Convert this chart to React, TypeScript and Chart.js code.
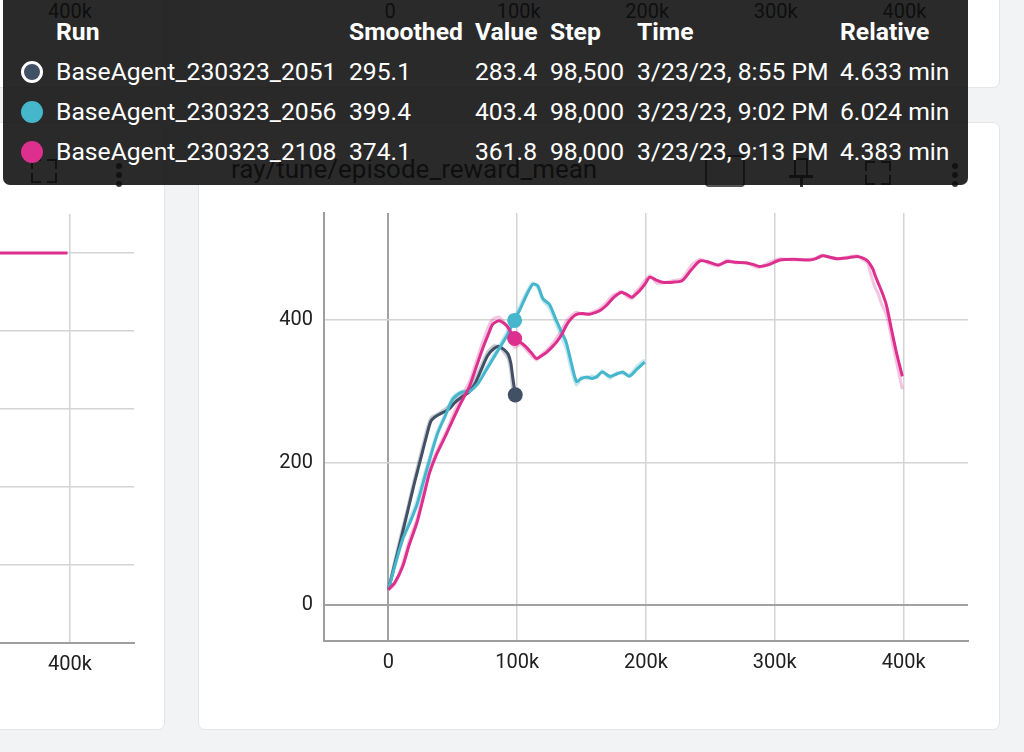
import React, { useEffect, useRef } from "react";
import { Chart, registerables } from "chart.js";

Chart.register(...registerables);

// ---------- data (steps in thousands) ----------
const X_TICKS = [0, 100, 200, 300, 400];
const Y_TICKS = [0, 200, 400];
const LEFT_Y_TICKS = [0, 1, 2, 3, 4, 5];

const RUN_NAMES = ["BaseAgent_230323_2051", "BaseAgent_230323_2056", "BaseAgent_230323_2108"];
const RUN_COLORS = ["#425066", "#45b6cc", "#dc2f8e"];
const RUN_RAW_COLORS = ["rgba(66,80,102,0.28)", "rgba(69,182,204,0.32)", "rgba(220,47,142,0.28)"];
const SMOOTHED_VALS = [295.1, 399.4, 374.1];
const RAW_VALS = [283.4, 403.4, 361.8];
const HOVER_STEPS = [98.5, 98, 98];
const STEP_LABELS = ["98,500", "98,000", "98,000"];
const TIME_LABELS = ["3/23/23, 8:55 PM", "3/23/23, 9:02 PM", "3/23/23, 9:13 PM"];
const RELATIVE_LABELS = ["4.633 min", "6.024 min", "4.383 min"];

const darkSteps = [0, 5, 10, 15, 20, 25, 30, 33, 37, 42, 47, 52, 57, 62, 67, 72, 77, 82, 86, 90, 93, 95, 96.5, 98.5];
const darkSmoothed = [22, 58, 95, 132, 170, 205, 240, 258, 265, 270, 275, 285, 292, 298, 310, 330, 350, 360, 363, 358, 352, 340, 320, 295.1];
const darkRaw = [22, 63, 101, 137, 176, 212, 247, 263, 267, 273, 279, 289, 294, 302, 316, 336, 355, 364, 362, 354, 346, 328, 302, 283.4];

const cyanSteps = [0, 5, 11, 16, 22, 27, 32, 38, 44, 50, 57, 63, 70, 75, 81, 86, 92, 98, 103, 107, 112, 116, 120, 125, 130, 134, 138, 142, 146, 150, 154, 158, 162, 166, 172, 177, 182, 187, 193, 199];
const cyanSmoothed = [22, 55, 92, 113, 140, 172, 204, 240, 265, 289, 299, 300, 312, 327, 345, 360, 378, 399.4, 418, 434, 450, 448, 430, 422, 401, 385, 369, 340, 314, 318, 320, 318, 321, 327, 321, 324, 327, 321, 331, 341];
const cyanRaw = [22, 60, 97, 118, 146, 178, 208, 244, 268, 292, 300, 302, 316, 331, 349, 364, 383, 403.4, 423, 438, 452, 445, 427, 417, 396, 378, 360, 330, 309, 320, 318, 322, 319, 329, 318, 326, 325, 323, 335, 344];

const pinkSteps = [0, 5, 11, 16, 22, 27, 32, 37, 45, 50, 56, 63, 68, 73, 78, 81, 86, 92, 98, 103, 107, 111, 115, 119, 123, 127, 131, 135, 138, 142, 146, 151, 156, 160, 164, 169, 174, 178, 181, 185, 189, 192, 195, 199, 203, 208, 213, 221, 228, 235, 242, 249, 256, 263, 270, 278, 283, 288, 296, 304, 315, 327, 332, 337, 343, 348, 356, 364, 368, 372, 374, 376, 378, 380, 383, 386, 388, 390, 394, 399];
const pinkSmoothed = [22, 32, 54, 84, 115, 150, 186, 210, 240, 260, 283, 307, 333, 359, 382, 394, 399, 392, 374.1, 368, 362, 354, 346, 350, 355, 362, 370, 381, 392, 402, 408, 409, 408, 410, 413, 420, 430, 436, 439, 436, 432, 436, 441, 450, 460, 456, 453, 453, 455, 470, 483, 481, 477, 482, 481, 480, 478, 475, 478, 484, 485, 484, 486, 490, 488, 486, 487, 489, 487, 483, 478, 472, 462, 453, 440, 425, 410, 392, 358, 321];
const pinkRaw = [22, 30, 58, 90, 120, 156, 190, 214, 244, 266, 290, 314, 341, 368, 392, 401, 404, 390, 361.8, 366, 358, 350, 344, 352, 358, 366, 376, 388, 398, 406, 411, 408, 409, 412, 416, 424, 434, 438, 440, 433, 430, 440, 445, 455, 462, 452, 452, 455, 458, 476, 485, 479, 476, 484, 480, 481, 476, 474, 481, 486, 484, 485, 487, 491, 487, 486, 488, 490, 485, 480, 468, 455, 445, 438, 422, 410, 398, 380, 345, 303];

const leftSteps = [0, 100, 200, 300, 398];
const leftValues = [5, 5, 5, 5, 5];

const TOP_LABEL_TICKS = [0, 100, 200, 300, 400];

// ---------- helpers ----------
const pts = (xs: number[], ys: number[]) => xs.map((x, i) => ({ x, y: ys[i] }));
const tickLabel = (v: number) => (v === 0 ? "0" : `${v}k`);

const FONT = "Roboto";

function gridOpts() {
  return {
    drawTicks: false,
    color: (ctx: any) => (ctx.tick && ctx.tick.value === 0 ? "#a2a2a2" : "#d4d4d4"),
    lineWidth: (ctx: any) => (ctx.tick && ctx.tick.value === 0 ? 2 : 1.5),
  };
}

function makeScales(xTicks: number[], yTicks: number[], yMin: number, yMax: number, yWidth: number, xHeight: number) {
  return {
    x: {
      type: "linear" as const,
      min: -50,
      max: 450,
      afterBuildTicks: (s: any) => {
        s.ticks = xTicks.map((v) => ({ value: v }));
      },
      afterFit: (s: any) => {
        s.height = xHeight;
      },
      grid: gridOpts(),
      border: { color: "#9e9e9e", width: 2 },
      ticks: {
        padding: 10,
        autoSkip: false,
        maxRotation: 0,
        color: "#212121",
        font: { family: FONT, size: 20 },
        callback: (v: any) => tickLabel(Number(v)),
      },
    },
    y: {
      type: "linear" as const,
      min: yMin,
      max: yMax,
      afterBuildTicks: (s: any) => {
        s.ticks = yTicks.map((v) => ({ value: v }));
      },
      afterFit: (s: any) => {
        s.width = yWidth;
      },
      grid: gridOpts(),
      border: { color: "#9e9e9e", width: 2 },
      ticks: {
        padding: 11,
        color: "#212121",
        font: { family: FONT, size: 20 },
      },
    },
  };
}

const card: React.CSSProperties = {
  position: "absolute",
  background: "#ffffff",
  border: "1px solid #e4e5e7",
  borderRadius: 7,
  boxSizing: "border-box",
  overflow: "hidden",
};

function Bracket({ left, top }: { left: number; top: number }) {
  const c = "#3a3a3a";
  const s = 8;
  const b = `2.5px solid ${c}`;
  const base: React.CSSProperties = { position: "absolute", width: s, height: s };
  return (
    <div style={{ position: "absolute", left, top, width: 26, height: 24 }}>
      <div style={{ ...base, left: 0, top: 0, borderLeft: b, borderTop: b }} />
      <div style={{ ...base, right: 0, top: 0, borderRight: b, borderTop: b }} />
      <div style={{ ...base, left: 0, bottom: 0, borderLeft: b, borderBottom: b }} />
      <div style={{ ...base, right: 0, bottom: 0, borderRight: b, borderBottom: b }} />
    </div>
  );
}

function Dots({ left, top }: { left: number; top: number }) {
  const d: React.CSSProperties = { position: "absolute", width: 6, height: 6, borderRadius: 3, background: "#3a3a3a", left: 0 };
  return (
    <div style={{ position: "absolute", left, top, width: 6, height: 24 }}>
      <div style={{ ...d, top: 0 }} />
      <div style={{ ...d, top: 9 }} />
      <div style={{ ...d, top: 18 }} />
    </div>
  );
}

export default function App() {
  const mainRef = useRef<HTMLCanvasElement>(null);
  const leftRef = useRef<HTMLCanvasElement>(null);

  useEffect(() => {
    document.body.style.margin = "0";
    Chart.defaults.font.family = FONT;

    const series = [
      { steps: darkSteps, sm: darkSmoothed, raw: darkRaw },
      { steps: cyanSteps, sm: cyanSmoothed, raw: cyanRaw },
      { steps: pinkSteps, sm: pinkSmoothed, raw: pinkRaw },
    ];

    const datasets: any[] = [];
    series.forEach((s, i) => {
      datasets.push({
        type: "scatter",
        data: [{ x: HOVER_STEPS[i], y: SMOOTHED_VALS[i] }],
        pointRadius: 7.5,
        pointBackgroundColor: RUN_COLORS[i],
        pointBorderWidth: 0,
        showLine: false,
        order: 0,
      });
    });
    [2, 1, 0].forEach((i) => {
      const s = series[i];
      datasets.push({
        type: "line",
        data: pts(s.steps, s.sm),
        borderColor: RUN_COLORS[i],
        borderWidth: 3,
        pointRadius: 0,
        tension: 0.25,
        fill: false,
        order: 1,
      });
    });
    series.forEach((s, i) => {
      datasets.push({
        type: "line",
        data: pts(s.steps, s.raw),
        borderColor: RUN_RAW_COLORS[i],
        borderWidth: 3,
        pointRadius: 0,
        tension: 0.2,
        fill: false,
        order: 2,
      });
    });

    const main = new Chart(mainRef.current!, {
      type: "line",
      data: { datasets },
      options: {
        animation: false,
        responsive: false,
        maintainAspectRatio: false,
        layout: { padding: { top: 14, right: 22, left: 0, bottom: 0 } },
        plugins: { legend: { display: false }, tooltip: { enabled: false } },
        scales: makeScales(X_TICKS, Y_TICKS, -50, 550, 94, 49) as any,
      },
    });

    const left = new Chart(leftRef.current!, {
      type: "line",
      data: {
        datasets: [
          {
            data: pts(leftSteps, leftValues),
            borderColor: RUN_COLORS[2],
            borderWidth: 3,
            pointRadius: 0,
            fill: false,
          },
        ],
      },
      options: {
        animation: false,
        responsive: false,
        maintainAspectRatio: false,
        layout: { padding: { top: 14, right: 27, left: 0, bottom: 0 } },
        plugins: { legend: { display: false }, tooltip: { enabled: false } },
        scales: makeScales(X_TICKS, LEFT_Y_TICKS, 0, 5.5, 93, 48) as any,
      },
    });

    return () => {
      main.destroy();
      left.destroy();
    };
  }, []);

  const cols = [349, 475, 550, 637, 840];
  const headers = ["Smoothed", "Value", "Step", "Time", "Relative"];
  const rowCenters = [72, 112, 152];
  const txt = (left: number, center: number, s: string, bold = false): React.ReactNode => (
    <div
      key={`${left}-${center}-${s}`}
      style={{
        position: "absolute",
        left,
        top: center - 14 + 10,
        lineHeight: "28px",
        fontSize: 24.7,
        fontWeight: bold ? 700 : 400,
        color: "#ffffff",
        whiteSpace: "nowrap",
      }}
    >
      {s}
    </div>
  );

  return (
    <div
      style={{
        position: "fixed",
        left: 0,
        top: 0,
        width: 1024,
        height: 752,
        background: "#f2f3f5",
        overflow: "hidden",
        fontFamily: FONT,
      }}
    >
      {/* top cards */}
      <div style={{ ...card, left: -10, top: -20, width: 175, height: 108 }}>
        <div style={{ position: "absolute", left: 79, top: 38 - 12 - 8, transform: "translateX(-50%)", fontSize: 20, lineHeight: "24px", color: "#212121" }}>
          400k
        </div>
      </div>
      <div style={{ ...card, left: 198, top: -20, width: 802, height: 108 }}>
        {TOP_LABEL_TICKS.map((v) => (
          <div
            key={v}
            style={{
              position: "absolute",
              left: 389 + v * 1.286 - 198,
              top: 38 - 12 - 8,
              transform: "translateX(-50%)",
              fontSize: 20,
              lineHeight: "24px",
              color: "#212121",
            }}
          >
            {tickLabel(v)}
          </div>
        ))}
      </div>

      {/* left card */}
      <div style={{ ...card, left: -10, top: 122, width: 175, height: 608 }}>
        <canvas
          ref={leftRef}
          width={760}
          height={500}
          style={{ position: "absolute", left: -590, top: 68, width: 760, height: 500 }}
        />
        <Bracket left={40} top={36} />
        <Dots left={125} top={40} />
      </div>

      {/* main card */}
      <div style={{ ...card, left: 198, top: 122, width: 802, height: 608 }}>
        <div style={{ position: "absolute", left: 32, top: 31, fontSize: 26, lineHeight: "30px", color: "#212121", whiteSpace: "nowrap" }}>
          ray/tune/episode_reward_mean
        </div>
        <div style={{ position: "absolute", left: 506, top: 32, width: 40, height: 32, border: "2px solid #555", borderRadius: 4, boxSizing: "border-box", background: "#f4f4f4" }} />
        <div style={{ position: "absolute", left: 595, top: 35, width: 14, height: 18, borderLeft: "2.5px solid #3a3a3a", borderRight: "2.5px solid #3a3a3a", borderTop: "2.5px solid #3a3a3a", boxSizing: "border-box" }} />
        <div style={{ position: "absolute", left: 590, top: 52, width: 24, height: 2.5, background: "#3a3a3a" }} />
        <div style={{ position: "absolute", left: 601, top: 52, width: 2.5, height: 12, background: "#3a3a3a" }} />
        <Bracket left={666} top={38} />
        <Dots left={753} top={40} />
      </div>
      <canvas
        ref={mainRef}
        width={760}
        height={500}
        style={{ position: "absolute", left: 230, top: 190, width: 760, height: 500 }}
      />

      {/* hover tooltip */}
      <div
        style={{
          position: "absolute",
          left: 3,
          top: -10,
          width: 965,
          height: 195,
          background: "rgba(12,12,12,0.88)",
          borderRadius: 7,
          zIndex: 10,
        }}
      >
        {txt(53, 32, "Run", true)}
        {headers.map((h, i) => txt(cols[i] - 3, 32, h, true))}
        {RUN_NAMES.map((name, r) => (
          <React.Fragment key={name}>
            <div
              style={{
                position: "absolute",
                left: 29 - 11,
                top: rowCenters[r] - 11 + 10,
                width: 22,
                height: 22,
                borderRadius: 11,
                background: RUN_COLORS[r],
                boxSizing: "border-box",
                border: r === 0 ? "3px solid #ffffff" : "none",
              }}
            />
            {txt(53, rowCenters[r], name)}
            {txt(cols[0] - 3, rowCenters[r], SMOOTHED_VALS[r].toFixed(1))}
            {txt(cols[1] - 3, rowCenters[r], RAW_VALS[r].toFixed(1))}
            {txt(cols[2] - 3, rowCenters[r], STEP_LABELS[r])}
            {txt(cols[3] - 3, rowCenters[r], TIME_LABELS[r])}
            {txt(cols[4] - 3, rowCenters[r], RELATIVE_LABELS[r])}
          </React.Fragment>
        ))}
      </div>
    </div>
  );
}
